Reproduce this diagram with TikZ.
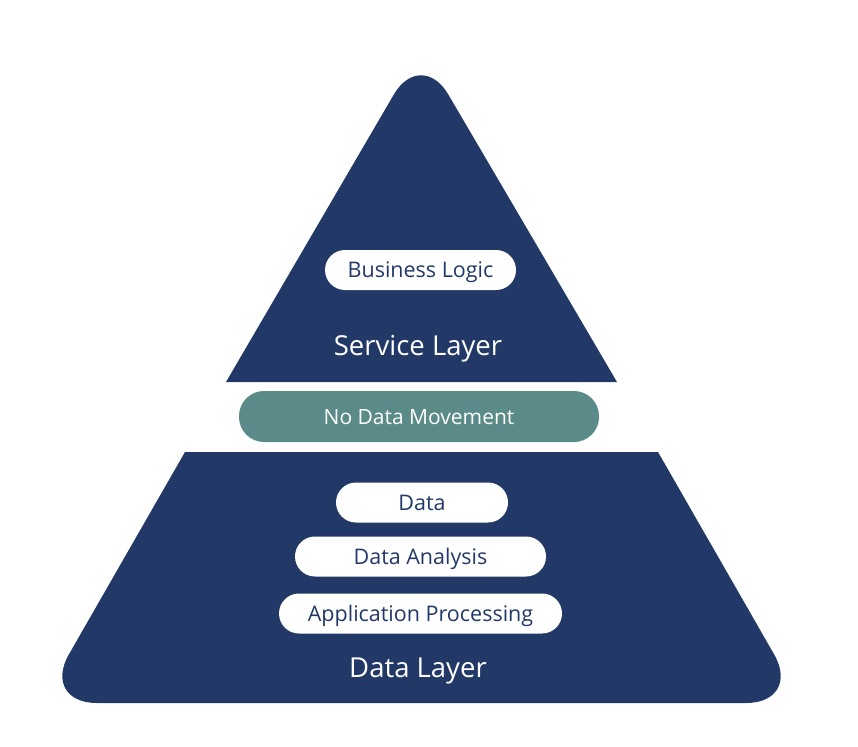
\documentclass[tikz,border=0pt]{standalone}
\usepackage{fontspec}
\setmainfont{Open Sans}
\definecolor{layernavy}{RGB}{34,57,104}
\definecolor{bridgeteal}{RGB}{90,139,137}

\begin{document}
\begin{tikzpicture}[
    x=1pt, y=-1pt,
    pill/.style={rectangle, rounded corners=20pt, fill=white, text=layernavy, minimum height=40pt, inner sep=0pt, text height=15.4pt, text depth=0pt, font=\fontsize{21.5}{24}\selectfont},
    layerlabel/.style={text=white, font=\fontsize{27.5}{30}\selectfont}
]
% Canvas
\fill[white] (0,0) rectangle (858,746);
\useasboundingbox (0,0) rectangle (858,746);

% Service layer (top triangle)
\fill[layernavy] (226,382) [rounded corners=54pt] -- (421,48) [sharp corners] -- (617,382) -- cycle;

% Data layer (bottom trapezoid)
\fill[layernavy] (421,703) [rounded corners=56pt] -- (41,703) [sharp corners] -- (185,452) -- (658,452) [rounded corners=56pt] -- (802,703) -- cycle;

% Service layer contents
\node[pill, minimum width=191pt] (bizlogic) at (420.5,270) {Business Logic};
\node[layerlabel] (servicelabel) at (418,349) {Service Layer};

% Bridge
\node[pill, fill=bridgeteal, text=white, minimum width=360pt, minimum height=51pt, rounded corners=25pt, text height=15pt, font=\fontsize{21}{24}\selectfont] (nomove) at (419,416.5) {No Data Movement};

% Data layer contents
\node[pill, minimum width=172pt] (data) at (422,502.5) {Data};
\node[pill, minimum width=251pt] (analysis) at (420.5,556.5) {Data Analysis};
\node[pill, minimum width=283pt] (appproc) at (420.5,613.5) {Application Processing};
\node[layerlabel] (datalabel) at (418,671) {Data Layer};
\end{tikzpicture}
\end{document}
